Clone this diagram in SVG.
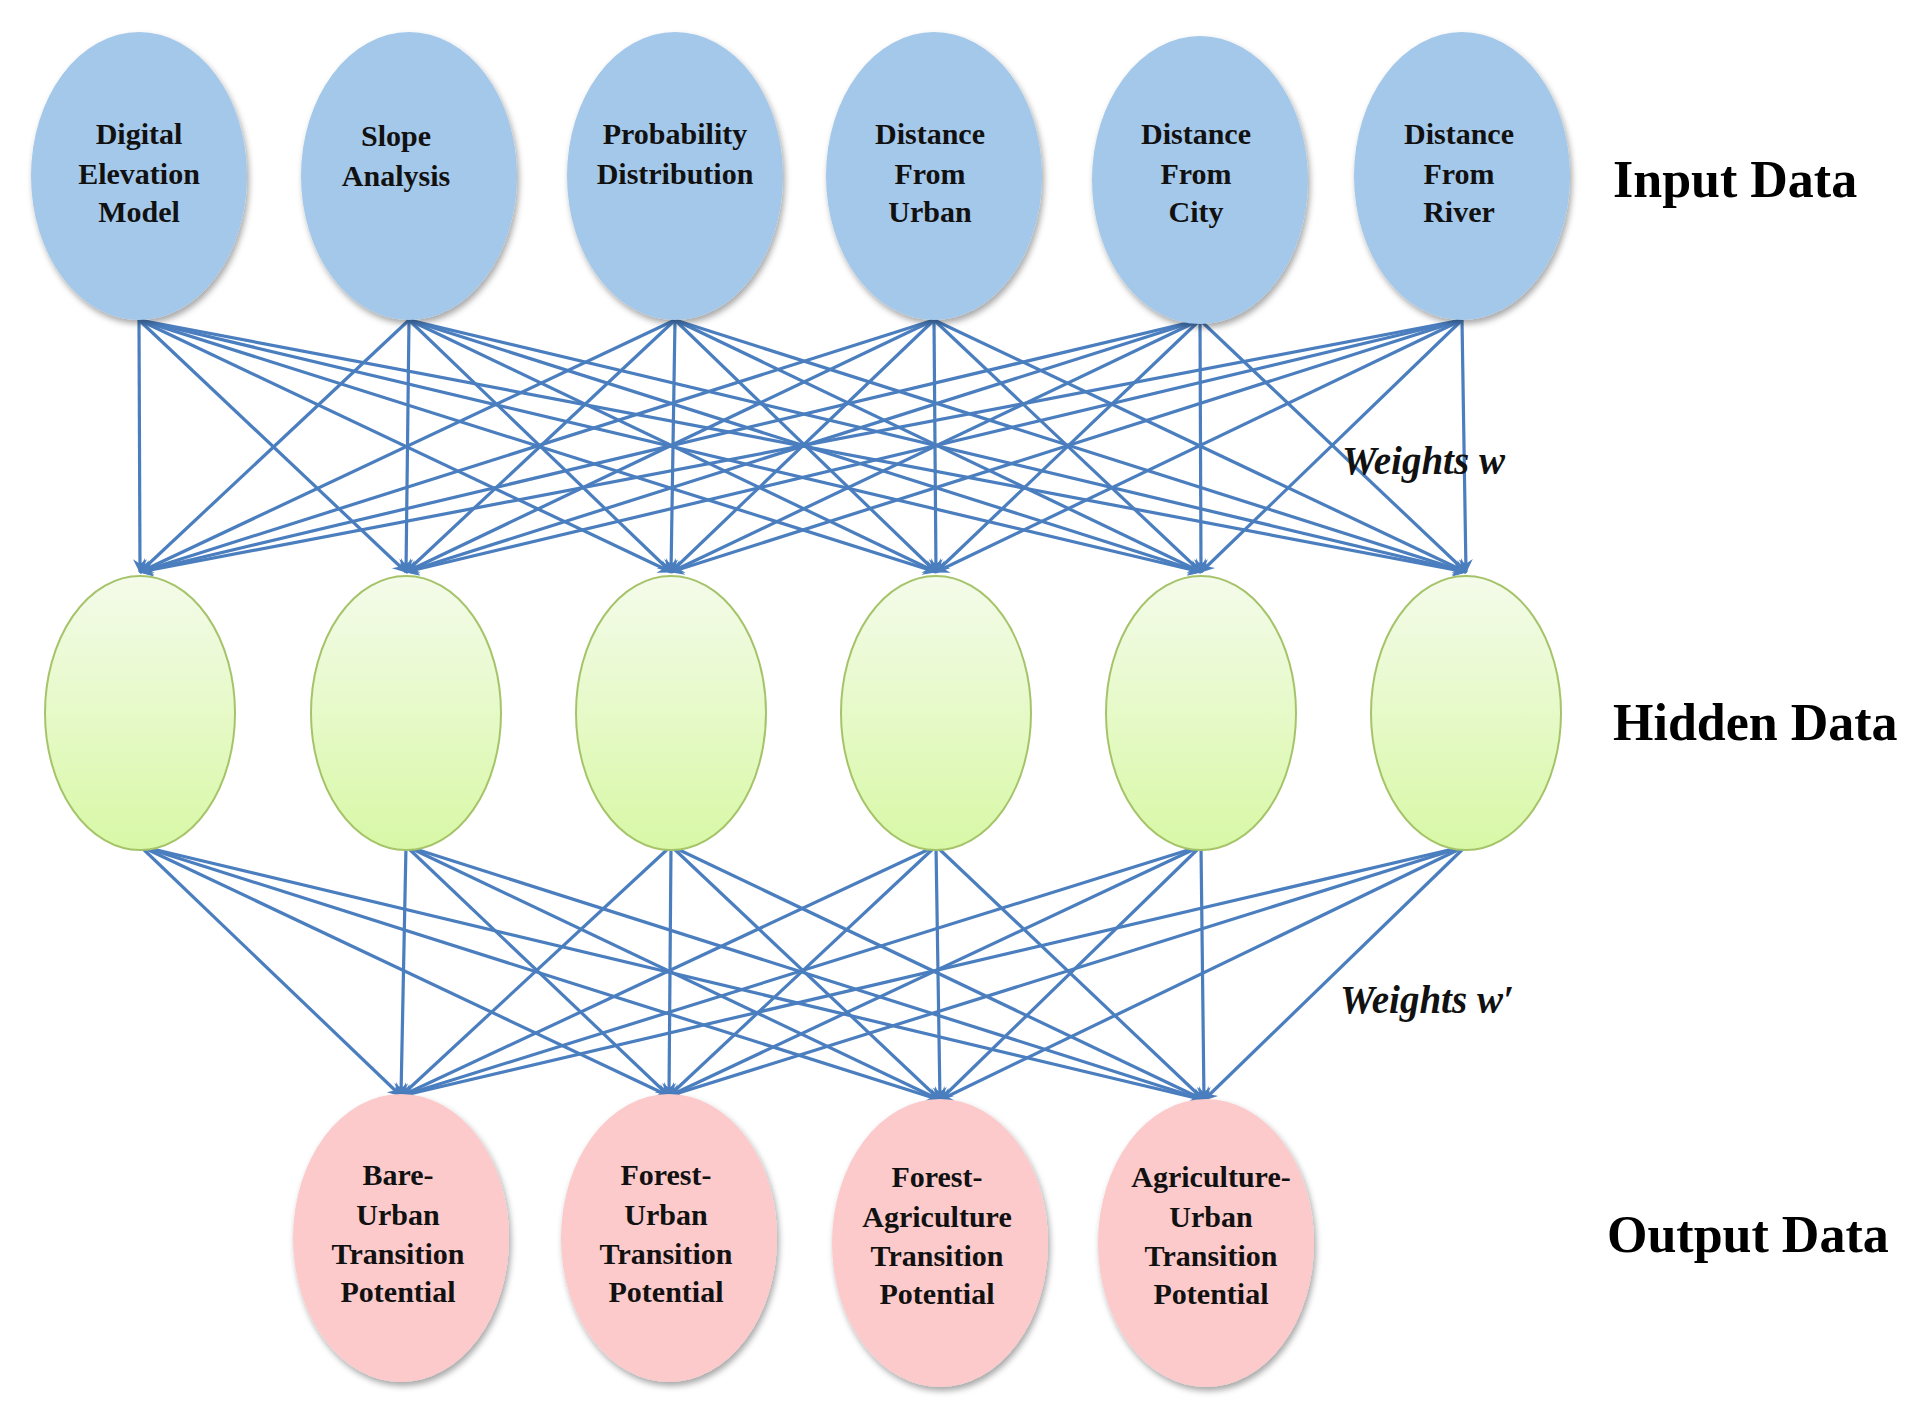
<svg xmlns="http://www.w3.org/2000/svg" width="1931" height="1415" viewBox="0 0 1931 1415">
<style>
.c line{stroke:#4a7ebf;stroke-width:3.2;marker-end:url(#ah)}
.in{fill:#a4c8ea;filter:url(#sh)}
.hd{fill:url(#g);stroke:#a5c46a;stroke-width:2}
.out{fill:#fccacb;filter:url(#sh)}
.t{font-family:"Liberation Serif",serif;font-weight:bold;font-size:30px;text-anchor:middle;fill:#111}
.lab{font-family:"Liberation Serif",serif;font-weight:bold;font-size:52px;fill:#000}
.w{font-family:"Liberation Serif",serif;font-weight:bold;font-style:italic;font-size:39px;fill:#111}
</style>
<defs>
<linearGradient id="g" x1="0" y1="0" x2="0" y2="1"><stop offset="0" stop-color="#f4fbea"/><stop offset="1" stop-color="#d8f8a6"/></linearGradient>
<filter id="sh" x="-20%" y="-20%" width="140%" height="140%"><feDropShadow dx="2" dy="4" stdDeviation="3" flood-color="#000" flood-opacity="0.35"/></filter>
<marker id="ah" viewBox="0 0 12 12" refX="11" refY="6" markerWidth="18" markerHeight="14" orient="auto" markerUnits="userSpaceOnUse"><path d="M0,0 L12,6 L0,12 L4,6 Z" fill="#4a7ebf"/></marker>
</defs>
<g id="connectors" class="c">
<g id="w1">
<line x1="139" y1="320" x2="140" y2="572"/><line x1="139" y1="320" x2="406" y2="572"/><line x1="139" y1="320" x2="671" y2="572"/><line x1="139" y1="320" x2="936" y2="572"/><line x1="139" y1="320" x2="1201" y2="572"/><line x1="139" y1="320" x2="1466" y2="572"/>
<line x1="409" y1="320" x2="140" y2="572"/><line x1="409" y1="320" x2="406" y2="572"/><line x1="409" y1="320" x2="671" y2="572"/><line x1="409" y1="320" x2="936" y2="572"/><line x1="409" y1="320" x2="1201" y2="572"/><line x1="409" y1="320" x2="1466" y2="572"/>
<line x1="675" y1="320" x2="140" y2="572"/><line x1="675" y1="320" x2="406" y2="572"/><line x1="675" y1="320" x2="671" y2="572"/><line x1="675" y1="320" x2="936" y2="572"/><line x1="675" y1="320" x2="1201" y2="572"/><line x1="675" y1="320" x2="1466" y2="572"/>
<line x1="934" y1="320" x2="140" y2="572"/><line x1="934" y1="320" x2="406" y2="572"/><line x1="934" y1="320" x2="671" y2="572"/><line x1="934" y1="320" x2="936" y2="572"/><line x1="934" y1="320" x2="1201" y2="572"/><line x1="934" y1="320" x2="1466" y2="572"/>
<line x1="1200" y1="320" x2="140" y2="572"/><line x1="1200" y1="320" x2="406" y2="572"/><line x1="1200" y1="320" x2="671" y2="572"/><line x1="1200" y1="320" x2="936" y2="572"/><line x1="1200" y1="320" x2="1201" y2="572"/><line x1="1200" y1="320" x2="1466" y2="572"/>
<line x1="1462" y1="320" x2="140" y2="572"/><line x1="1462" y1="320" x2="406" y2="572"/><line x1="1462" y1="320" x2="671" y2="572"/><line x1="1462" y1="320" x2="936" y2="572"/><line x1="1462" y1="320" x2="1201" y2="572"/><line x1="1462" y1="320" x2="1466" y2="572"/>
</g>
<g id="w2">
<line x1="140" y1="846" x2="401" y2="1096"/><line x1="140" y1="846" x2="669" y2="1096"/><line x1="140" y1="846" x2="940" y2="1100"/><line x1="140" y1="846" x2="1204" y2="1100"/>
<line x1="406" y1="846" x2="401" y2="1096"/><line x1="406" y1="846" x2="669" y2="1096"/><line x1="406" y1="846" x2="940" y2="1100"/><line x1="406" y1="846" x2="1204" y2="1100"/>
<line x1="671" y1="846" x2="401" y2="1096"/><line x1="671" y1="846" x2="669" y2="1096"/><line x1="671" y1="846" x2="940" y2="1100"/><line x1="671" y1="846" x2="1204" y2="1100"/>
<line x1="936" y1="846" x2="401" y2="1096"/><line x1="936" y1="846" x2="669" y2="1096"/><line x1="936" y1="846" x2="940" y2="1100"/><line x1="936" y1="846" x2="1204" y2="1100"/>
<line x1="1201" y1="846" x2="401" y2="1096"/><line x1="1201" y1="846" x2="669" y2="1096"/><line x1="1201" y1="846" x2="940" y2="1100"/><line x1="1201" y1="846" x2="1204" y2="1100"/>
<line x1="1466" y1="846" x2="401" y2="1096"/><line x1="1466" y1="846" x2="669" y2="1096"/><line x1="1466" y1="846" x2="940" y2="1100"/><line x1="1466" y1="846" x2="1204" y2="1100"/>
</g>
</g>
<g id="in1"><ellipse class="in" cx="139" cy="176" rx="108" ry="144"/><text class="t" x="139" y="144">Digital</text><text class="t" x="139" y="184">Elevation</text><text class="t" x="139" y="222">Model</text></g>
<g id="in2"><ellipse class="in" cx="409" cy="176" rx="108" ry="144"/><text class="t" x="396" y="146">Slope</text><text class="t" x="396" y="186">Analysis</text></g>
<g id="in3"><ellipse class="in" cx="675" cy="176" rx="108" ry="144"/><text class="t" x="675" y="144">Probability</text><text class="t" x="675" y="184">Distribution</text></g>
<g id="in4"><ellipse class="in" cx="934" cy="176" rx="108" ry="144"/><text class="t" x="930" y="144">Distance</text><text class="t" x="930" y="184">From</text><text class="t" x="930" y="222">Urban</text></g>
<g id="in5"><ellipse class="in" cx="1200" cy="180" rx="108" ry="144"/><text class="t" x="1196" y="144">Distance</text><text class="t" x="1196" y="184">From</text><text class="t" x="1196" y="222">City</text></g>
<g id="in6"><ellipse class="in" cx="1462" cy="176" rx="108" ry="144"/><text class="t" x="1459" y="144">Distance</text><text class="t" x="1459" y="184">From</text><text class="t" x="1459" y="222">River</text></g>
<g id="h1"><ellipse class="hd" cx="140" cy="713" rx="95" ry="137"/></g>
<g id="h2"><ellipse class="hd" cx="406" cy="713" rx="95" ry="137"/></g>
<g id="h3"><ellipse class="hd" cx="671" cy="713" rx="95" ry="137"/></g>
<g id="h4"><ellipse class="hd" cx="936" cy="713" rx="95" ry="137"/></g>
<g id="h5"><ellipse class="hd" cx="1201" cy="713" rx="95" ry="137"/></g>
<g id="h6"><ellipse class="hd" cx="1466" cy="713" rx="95" ry="137"/></g>
<g id="o1"><ellipse class="out" cx="401" cy="1238" rx="108" ry="144"/><text class="t" x="398" y="1185">Bare-</text><text class="t" x="398" y="1225">Urban</text><text class="t" x="398" y="1264">Transition</text><text class="t" x="398" y="1302">Potential</text></g>
<g id="o2"><ellipse class="out" cx="669" cy="1238" rx="108" ry="144"/><text class="t" x="666" y="1185">Forest-</text><text class="t" x="666" y="1225">Urban</text><text class="t" x="666" y="1264">Transition</text><text class="t" x="666" y="1302">Potential</text></g>
<g id="o3"><ellipse class="out" cx="940" cy="1243" rx="108" ry="144"/><text class="t" x="937" y="1187">Forest-</text><text class="t" x="937" y="1227">Agriculture</text><text class="t" x="937" y="1266">Transition</text><text class="t" x="937" y="1304">Potential</text></g>
<g id="o4"><ellipse class="out" cx="1206" cy="1243" rx="108" ry="144"/><text class="t" x="1211" y="1187">Agriculture-</text><text class="t" x="1211" y="1227">Urban</text><text class="t" x="1211" y="1266">Transition</text><text class="t" x="1211" y="1304">Potential</text></g>
<text class="lab" x="1613" y="197">Input Data</text>
<text class="lab" x="1613" y="740">Hidden Data</text>
<text class="lab" x="1607" y="1252">Output Data</text>
<text class="w" x="1342" y="474">Weights w</text>
<text class="w" x="1340" y="1013">Weights w′</text>
</svg>
